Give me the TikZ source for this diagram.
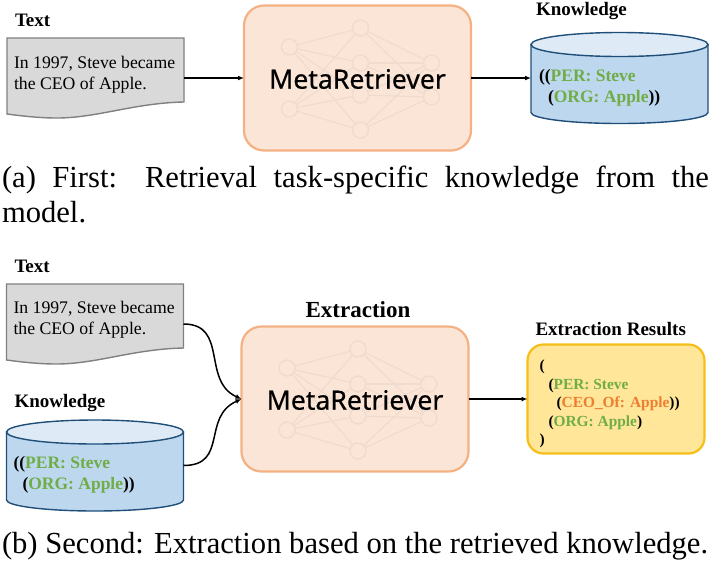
\documentclass[tikz,border=0pt]{standalone}
\usepackage{fontspec}
\setmainfont{Liberation Serif}
\newfontfamily\netfont{Noto Sans}[FakeBold=0.6]
\usepackage{tikz}
\usetikzlibrary{positioning,arrows.meta}
\definecolor{entgreen}{HTML}{70AD47}
\definecolor{relorange}{HTML}{ED7D31}
\tikzset{
  % Specifications for style of nodes:
  base/.style = {
    inner sep=0pt,
    outer sep=0pt
  },
  doc/.style = {
    base,
    minimum width=177pt,
    minimum height=80pt
  },
  docline/.style = {
    draw=black!50,
    line width=1.4pt,
    fill=black!15
  },
  meta/.style = {
    base,
    rectangle,
    rounded corners=20pt,
    draw={rgb,255:red,244;green,177;blue,131},
    fill={rgb,255:red,251;green,229;blue,214},
    line width=2.2pt,
    minimum width=227pt,
    minimum height=145pt
  },
  store/.style = {
    base,
    minimum width=177pt,
    minimum height=91pt
  },
  storeline/.style = {
    draw={rgb,255:red,31;green,78;blue,121},
    line width=1.4pt
  },
  result/.style = {
    base,
    rectangle,
    rounded corners=16pt,
    draw={rgb,255:red,245;green,190;blue,24},
    fill={rgb,255:red,255;green,230;blue,153},
    line width=2.2pt,
    minimum width=177pt,
    minimum height=109pt
  },
  neuron/.style = {
    base,
    circle,
    draw={rgb,255:red,240;green,220;blue,207},
    line width=1.4pt,
    minimum size=16pt
  },
  synapse/.style = {
    draw={rgb,255:red,240;green,220;blue,207},
    line width=1.2pt
  },
  title/.style = {base, font=\fontsize{19}{22}\selectfont\bfseries},
  body/.style = {base, align=left, font=\fontsize{17.7}{21}\selectfont},
  entity/.style = {base, align=left, font=\fontsize{17.5}{21}\selectfont\bfseries},
  outcome/.style = {base, align=left, font=\fontsize{15.4}{18.6}\selectfont\bfseries},
  metaname/.style = {base, font=\fontsize{26.6}{30}\selectfont\netfont},
  caption/.style = {base, text width=707pt, align=justify, font=\fontsize{30.6}{35}\selectfont},
  flow/.style = {draw=black, line width=1.5pt, -{Latex[length=6pt,width=5pt]}}
}
% paper outline with a wavy lower edge
\newcommand{\docwave}[1]{
  \path[docline] (#1.north west) -- (#1.north east) -- ([yshift=16pt]#1.south east)
    .. controls +(-50,1) and +(40,0) .. ([xshift=50pt]#1.south west)
    .. controls +(-18,0) and +(15,2) .. ([yshift=4pt]#1.south west) -- cycle;
}
% drum outline, lid on top
\newcommand{\drum}[1]{
  \path[storeline, fill={rgb,255:red,189;green,215;blue,238}]
    ([yshift=-12pt]#1.north west) -- ([yshift=11pt]#1.south west)
    arc[start angle=180, end angle=360, x radius=88.5pt, y radius=11pt]
    -- ([yshift=-12pt]#1.north east) -- cycle;
  \path[storeline, fill={rgb,255:red,222;green,235;blue,247}]
    ([yshift=-12pt]#1.north) ellipse[x radius=88.5pt, y radius=12pt];
}
% faint network icon inside a box
\newcommand{\neticon}[1]{
  \begin{scope}[shift={(#1.center)}]
    \foreach \i/\y in {1/-31,2/31}
      \node[neuron] (#1l\i) at (-68,\y) {};
    \foreach \i/\y in {1/-50,2/-15,3/17,4/52}
      \node[neuron] (#1m\i) at (3,\y) {};
    \foreach \i/\y in {1/-15,2/19}
      \node[neuron] (#1r\i) at (74,\y) {};
    \foreach \a in {1,2}
      \foreach \b in {1,2,3,4} {
        \draw[synapse] (#1l\a) -- (#1m\b);
        \draw[synapse] (#1m\b) -- (#1r\a);
      }
  \end{scope}
}
\newcommand{\ent}[1]{\textcolor{entgreen}{#1}}
\newcommand{\rel}[1]{\textcolor{relorange}{#1}}

\begin{document}
\begin{tikzpicture}[x=1pt,y=-1pt]
  \useasboundingbox (0,0) rectangle (712,563);
  % First row
  \node[meta] (metaA) at (357.5,78) {};
  \neticon{metaA}
  \node[metaname, yshift=-1pt] (metaAname) at (metaA) {MetaRetriever};
  \node[doc, left=60pt of metaA] (docA) {};
  \docwave{docA}
  \node[body, below right=18pt and 7pt of docA.north west] (docAtext)
    {In 1997, Steve became\\the CEO of Apple.};
  \node[title, above right=11pt and 8pt of docA.north west] (docAtitle) {Text};
  \node[store, right=60pt of metaA] (storeA) {};
  \drum{storeA}
  \node[entity, right=8pt of storeA.west, yshift=-10pt] (storeAtext)
    {((\ent{PER: Steve}\\\hspace*{9pt}(\ent{ORG: Apple}))};
  \node[title, above right=13pt and 5pt of storeA.north west] (storeAtitle) {Knowledge};
  \draw[flow] (docA.east) -- (metaA.west);
  \draw[flow] (metaA.east) -- (storeA.west);
  \node[caption, anchor=north west] (capA) at (2,166)
    {(a) First: Retrieval task-specific knowledge from the model.};

  % Second row
  \node[meta] (metaB) at (355,399) {};
  \neticon{metaB}
  \node[metaname, yshift=-1pt] (metaBname) at (metaB) {MetaRetriever};
  \node[title, font=\fontsize{23}{26}\selectfont\bfseries, above=9pt of metaB, xshift=3pt] (metaBtitle) {Extraction};
  \node[doc] (docB) at (95,324) {};
  \docwave{docB}
  \node[body, below right=17pt and 7pt of docB.north west] (docBtext)
    {In 1997, Steve became\\the CEO of Apple.};
  \node[title, above right=11pt and 8pt of docB.north west] (docBtitle) {Text};
  \node[store, below=56pt of docB] (storeB) {};
  \drum{storeB}
  \node[entity, right=7pt of storeB.west, yshift=-9.5pt] (storeBtext)
    {((\ent{PER: Steve}\\\hspace*{9pt}(\ent{ORG: Apple}))};
  \node[title, above right=8pt and 8pt of storeB.north west] (storeBtitle) {Knowledge};
  \node[result, right=59pt of metaB] (resB) {};
  \node[outcome, right=12pt of resB.west, yshift=-5pt] (resBtext)
    {(\\\hspace*{9pt}(\ent{PER: Steve}\\\hspace*{17pt}(\rel{CEO\_Of: Apple}))\\\hspace*{9pt}(\ent{ORG: Apple})\\)};
  \node[title, above right=9pt and 8pt of resB.north west] (resBtitle) {Extraction Results};
  \draw[flow] (docB.east) .. controls +(45,0) and +(-40,-18) .. (metaB.west);
  \draw[flow] (storeB.east) .. controls +(45,0) and +(-40,18) .. (metaB.west);
  \draw[flow] (metaB.east) -- (resB.west);
  \node[caption, anchor=north west] (capB) at (2,532)
    {(b) Second: Extraction based on the retrieved knowledge.};
\end{tikzpicture}
\end{document}
